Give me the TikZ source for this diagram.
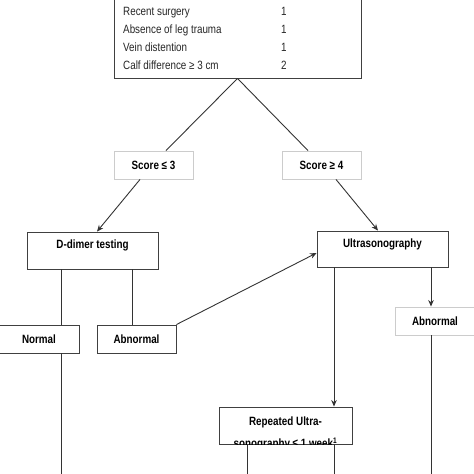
\documentclass[tikz,border=0pt]{standalone}
\usepackage{fontspec}
\setmainfont[FakeStretch=0.82]{Liberation Sans}
\usepackage{tikz}
\usetikzlibrary{positioning,fit,arrows.meta}

\begin{document}
\begin{tikzpicture}[x=1pt,y=-1pt,>={Stealth[length=6.5pt,width=5.5pt]},
    every node/.style={font=\fontsize{12}{14}\selectfont},
    txt/.style={inner sep=0pt,anchor=base west,text=black!85},
    box/.style={draw=black!75,line width=0.9pt,inner sep=0pt},
    greybox/.style={draw=black!20,line width=0.9pt,inner sep=0pt},
    lbl/.style={font=\fontsize{12}{14}\selectfont\bfseries},
    link/.style={draw=black!80,line width=0.9pt}]
          \useasboundingbox (0,0) rectangle (474,474);
          \node[box,minimum width=247,minimum height=118] (crit) at (237.5,19) {};
          \node[txt] (c1) at (123,15) {Recent surgery};
          \node[txt] (c2) at (123,33) {Absence of leg trauma};
          \node[txt] (c3) at (123,51) {Vein distention};
          \node[txt] (c4) at (123,69) {Calf difference ≥ 3 cm};
          \node[txt] (p1) at (281,15) {1}; \node[txt] (p2) at (281,33) {1};
          \node[txt] (p3) at (281,51) {1}; \node[txt] (p4) at (281,69) {2};
          \node[greybox,lbl,minimum width=79,minimum height=28] (score3) at
          (153.5,165) {Score ≤ 3}; \node[greybox,lbl,minimum width=79,minimum
          height=28] (score4) at (321.5,165) {Score ≥ 4};
          \node[box,lbl,minimum width=131,text height=16pt,text depth=21pt]
          (ddimer) at (92.5,250.5) {D-dimer testing};
          \node[box,lbl,minimum width=131,text height=16pt,text depth=20pt]
          (ultra) at (382.5,249) {Ultrasonography};
          \node[box,lbl,minimum width=80,minimum height=28] (normal) at
          (39,339) {Normal}; \node[box,lbl,minimum width=79,minimum height=28]
          (abn1) at (136.5,339) {Abnormal}; \node[greybox,lbl,minimum
          width=80,minimum height=28] (abn2) at (435,321) {Abnormal};
          \node[box,minimum width=133,minimum height=37] (rep) at (285.5,425.5) {};
          \node[lbl,inner sep=0pt,anchor=base] (rep1) at (285.5,425) {Repeated Ultra-};
          \begin{scope}
            \clip (rep.north west) rectangle (rep.south east);
            \node[lbl,inner sep=0pt,anchor=base] (rep2) at (285.5,447.5)
            {sonography ≤ 1 week\textsuperscript{1}};
          \end{scope}
          \coordinate (e1) at (61,480); \coordinate (e2) at (247,480);
          \coordinate (e3) at (334,480); \coordinate (e4) at (431,480);
          \draw[link] (crit.south) -- ([xshift=12.5pt]score3.north); \draw[link]
          (crit.south) -- ([xshift=-13.5pt]score4.north); \draw[link,->]
          ([xshift=-13.5pt]score3.south) -- ([xshift=4.5pt]ddimer.north);
          \draw[link,->] ([xshift=14.5pt]score4.south) --
          ([xshift=-4.5pt]ultra.north); \draw[link] ([xshift=-31.5pt]ddimer.south)
          -- ([xshift=22pt]normal.north); \draw[link]
          ([xshift=39.5pt]ddimer.south) -- ([xshift=-4.5pt]abn1.north);
          \draw[link,->] (abn1.north east) -- ([yshift=-4pt]ultra.west);
          \draw[link,->] ([xshift=-48.5pt]ultra.south) --
          ([xshift=48.5pt]rep.north); \draw[link,->] ([xshift=48.5pt]ultra.south)
          -- ([xshift=-4pt]abn2.north); \draw[link] ([xshift=22pt]normal.south)
          -- (e1); \draw[link] ([xshift=-38.5pt]rep.south) -- (e2);
          \draw[link] ([xshift=48.5pt]rep.south) -- (e3); \draw[link]
          ([xshift=-4pt]abn2.south) -- (e4);
        \end{tikzpicture}
\end{document}
